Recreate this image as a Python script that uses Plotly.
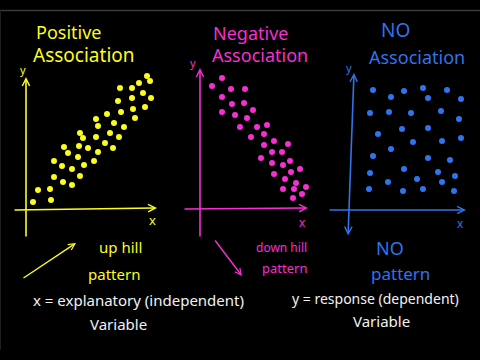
import plotly.graph_objects as go

# ---------------- data (units relative to each panel's origin) ----------------
pos_x = [12.1, 12.4, 9.4, 10.6, 11.3, 11.7, 12.5, 9.2, 10.6, 8.1, 9.5, 10.7, 11.9, 10.9,
         7.0, 7.2, 8.8, 9.8, 5.4, 5.7, 7.0, 8.4, 9.3, 7.9, 8.7, 3.8, 4.2, 5.3, 6.2, 7.2,
         2.8, 3.6, 5.2, 4.6, 5.8, 6.8, 2.8, 5.4, 3.7, 4.6, 1.2, 2.4, 0.7, 2.5]
pos_y = [13.4, 12.9, 12.2, 12.2, 12.7, 11.7, 11.2, 10.9, 11.2, 9.6, 9.8, 10.1, 10.3, 9.2,
         9.1, 8.4, 8.7, 8.3, 7.7, 7.2, 7.3, 7.7, 7.3, 6.7, 6.2, 6.3, 5.7, 6.4, 6.2, 5.8,
         4.9, 4.4, 5.3, 4.1, 4.5, 4.9, 3.3, 3.4, 2.8, 2.5, 2.0, 2.1, 0.8, 1.0]

neg_x = [2.2, 1.2, 3.1, 4.5, 2.2, 3.2, 4.4, 5.3, 2.2, 3.5, 4.7, 4.0, 5.7, 6.7, 5.1, 6.4,
         7.4, 8.8, 6.4, 7.2, 8.2, 6.1, 7.2, 8.3, 9.0, 10.0, 7.4, 9.1, 8.5, 9.6, 8.3, 9.4,
         10.6, 10.2, 9.3]
neg_y = [13.1, 12.3, 12.0, 12.0, 11.2, 10.5, 10.6, 9.9, 9.7, 9.4, 9.1, 8.2, 8.2, 8.4, 7.2,
         7.5, 6.8, 6.5, 6.4, 5.7, 5.7, 5.1, 4.6, 4.4, 4.8, 4.0, 3.5, 3.7, 3.0, 2.6, 2.0,
         2.0, 2.2, 1.5, 1.1]

none_x = [2.4, 4.2, 5.5, 7.4, 7.9, 9.8, 11.2, 2.1, 4.0, 6.2, 9.2, 11.0, 2.9, 5.3, 7.9,
          6.4, 9.3, 11.2, 4.2, 2.4, 7.9, 10.1, 2.1, 5.5, 8.9, 10.6, 3.9, 6.8, 9.3, 2.0,
          5.4, 7.4, 10.5]
none_y = [12.0, 11.3, 11.9, 12.2, 11.2, 12.0, 11.1, 9.7, 9.8, 9.7, 9.9, 9.1, 7.6, 8.1, 8.2,
          6.8, 6.9, 7.2, 6.1, 5.4, 5.2, 5.0, 3.7, 4.1, 3.8, 3.4, 2.8, 3.1, 2.8, 2.1,
          1.9, 2.1, 1.9]

titles = [["Positive", "Association"], ["Negative", "Association"], ["NO", "Association"]]
notes = [["up hill", "pattern"], ["down hill", "pattern"], ["NO", "pattern"]]
definitions = ["x = explanatory (independent)", "y = response (dependent)"]
variable_word = "Variable"

YEL = "#fcfc1e"
MAG = "#f52fd2"
BLU = "#2f74ec"
WHT = "#f2f2f2"
FONT = "Noto Sans"

W, H = 480, 360


def P(px, py):
    return px / W, 1 - py / H


fig = go.Figure()

panels = [
    (pos_x, pos_y, YEL, "x", "y"),
    (neg_x, neg_y, MAG, "x2", "y2"),
    (none_x, none_y, BLU, "x3", "y3"),
]
for xs, ys, col, xa, ya in panels:
    fig.add_trace(go.Scatter(x=xs, y=ys, mode="markers", xaxis=xa, yaxis=ya,
                             marker=dict(color=col, size=6, line=dict(width=0)),
                             hoverinfo="skip", showlegend=False))

ydom = [1 - 245 / H, 1 - 60 / H]
ax_common = dict(visible=False, showgrid=False, zeroline=False, fixedrange=True)
fig.update_layout(
    width=W, height=H, margin=dict(l=0, r=0, t=0, b=0),
    paper_bgcolor="black", plot_bgcolor="rgba(0,0,0,0)",
    xaxis=dict(domain=[0, 160 / W], range=[-2.6, 13.4], **ax_common),
    yaxis=dict(domain=ydom, range=[-3.5, 15], **ax_common),
    xaxis2=dict(domain=[160 / W, 320 / W], range=[-4, 12], anchor="y2", **ax_common),
    yaxis2=dict(domain=ydom, range=[-3.6, 14.9], anchor="x2", **ax_common),
    xaxis3=dict(domain=[320 / W, 1], range=[-2.9, 13.1], anchor="y3", **ax_common),
    yaxis3=dict(domain=ydom, range=[-3.5, 15], anchor="x3", **ax_common),
)

ann = []


def axis_arrow(xa, ya, tail, head, col, both=False):
    ann.append(dict(x=head[0], y=head[1], ax=tail[0], ay=tail[1], xref=xa, yref=ya,
                    axref=xa, ayref=ya, text="", showarrow=True, arrowhead=5,
                    arrowsize=0.9, arrowwidth=1.6, arrowcolor=col,
                    arrowside="end+start" if both else "end", startarrowhead=5,
                    startarrowsize=0.9))


# axes of each panel
axis_arrow("x", "y", (0, -2.8), (0, 13.3), YEL)
axis_arrow("x", "y", (-1.3, 0), (13.1, 0.2), YEL)
axis_arrow("x2", "y2", (0, -2.9), (0, 14.1), MAG)
axis_arrow("x2", "y2", (-1.7, 0), (10.8, 0.1), MAG)
axis_arrow("x3", "y3", (-0.1, -2.7), (0.5, 13.7), BLU, both=True)
axis_arrow("x3", "y3", (-2.1, 0), (11.7, 0), BLU)


def label(xa, ya, x, y, t, col, size=11):
    ann.append(dict(x=x, y=y, xref=xa, yref=ya, text=t, showarrow=False,
                    font=dict(family=FONT, size=size, color=col)))


label("x", "y", -0.3, 14.0, "y", YEL)
label("x", "y", 12.6, -1.0, "x", YEL, 13)
label("x2", "y2", -0.7, 14.6, "y", MAG)
label("x2", "y2", 10.2, -1.3, "x", MAG, 12)
label("x3", "y3", 0.0, 14.2, "y", BLU)
label("x3", "y3", 11.1, -1.3, "x", BLU, 12)


def txt(px, py, t, col, size):
    x, y = P(px, py)
    ann.append(dict(x=x, y=y, xref="paper", yref="paper", text=t, showarrow=False,
                    xanchor="center", yanchor="middle",
                    font=dict(family=FONT, size=size, color=col)))


# titles
txt(68, 32, titles[0][0], YEL, 18)
txt(84, 55, titles[0][1], YEL, 19)
txt(250, 33, titles[1][0], MAG, 18)
txt(260, 55, titles[1][1], MAG, 18)
txt(395, 30, titles[2][0], BLU, 19)
txt(417, 57, titles[2][1], BLU, 18)

# notes under panels
txt(120, 247, notes[0][0], YEL, 15)
txt(114, 274, notes[0][1], YEL, 15)
txt(281, 247, notes[1][0], MAG, 12)
txt(284, 268, notes[1][1], MAG, 13)
txt(390, 248, notes[2][0], BLU, 18)
txt(400, 273, notes[2][1], BLU, 17)

# definitions
txt(138, 300, definitions[0], WHT, 15)
txt(118, 324, variable_word, WHT, 15)
txt(375, 298, definitions[1], WHT, 14)
txt(381, 321, variable_word, WHT, 15)

# decorative arrows
for (hx, hy, tx, ty, col) in [(76, 243, 22, 279, YEL), (242, 276, 214, 239, MAG)]:
    x, y = P(hx, hy)
    ann.append(dict(x=x, y=y, xref="paper", yref="paper", ax=tx - hx, ay=ty - hy,
                    text="", showarrow=True, arrowhead=5, arrowsize=0.9,
                    arrowwidth=1.4, arrowcolor=col))

fig.update_layout(annotations=ann)

# faint frame lines (top edge and left edge of the board)
fig.add_shape(type="line", xref="paper", yref="paper", x0=0, x1=1,
              y0=1 - 10.5 / H, y1=1 - 10.5 / H, line=dict(color="#383838", width=1.5))
fig.add_shape(type="line", xref="paper", yref="paper", x0=0.5 / W, x1=0.5 / W,
              y0=1 - 10.5 / H, y1=1 - 350 / H, line=dict(color="#1e1e1e", width=1))

fig.write_html(
    "out.html",
    config={"displayModeBar": False},
    post_script="document.body.style.margin='0';document.body.style.overflow='hidden';"
                "document.body.style.background='black';",
)
